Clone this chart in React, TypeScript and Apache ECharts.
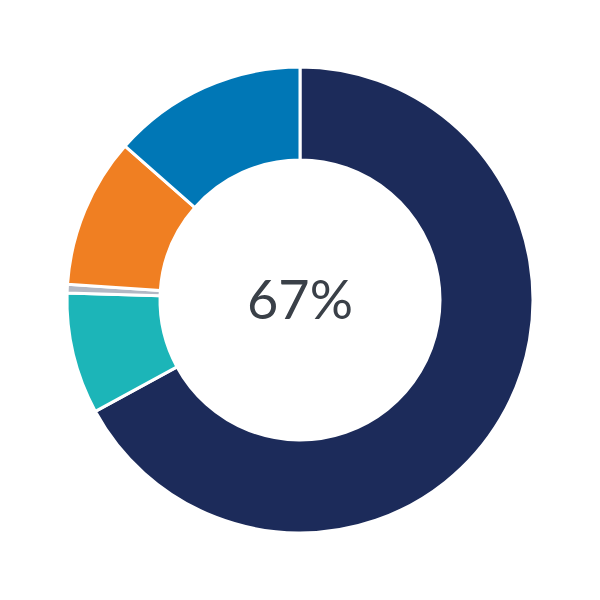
import * as echarts from "echarts";
import { useEffect, useRef } from "react";

const LABELS = ["Navy", "Teal", "Gray", "Orange", "Blue"];
const VALUES = [67, 8.4, 0.6, 10.4, 13.5];
const COLORS = ["#1c2b5a", "#1cb5b8", "#b3b8c4", "#f07f22", "#0077b6"];
const CENTER_TEXT = "67%";

export default function App() {
  const containerRef = useRef<HTMLDivElement>(null);

  useEffect(() => {
    const container = containerRef.current;
    if (!container) {
      return;
    }
    const chart = echarts.init(container, undefined, { renderer: "svg" });
    chart.setOption({
      animation: false,
      graphic: [
        {
          type: "text",
          x: 300,
          y: 298,
          style: {
            text: CENTER_TEXT,
            align: "center",
            verticalAlign: "middle",
            fontFamily: "Lato",
            fontWeight: 400,
            fontSize: 54,
            fill: "#3a4048",
          },
        },
      ],
      series: [
        {
          type: "pie",
          center: [300, 300],
          radius: [140, 233],
          startAngle: 90,
          clockwise: true,
          label: { show: false },
          labelLine: { show: false },
          emphasis: { disabled: true },
          itemStyle: { borderColor: "#ffffff", borderWidth: 3 },
          data: LABELS.map((name, i) => ({
            name,
            value: VALUES[i],
            itemStyle: { color: COLORS[i] },
          })),
        },
      ],
    });
    return () => chart.dispose();
  }, []);

  return (
    <div
      ref={containerRef}
      style={{ position: "fixed", left: 0, top: 0, width: 600, height: 600 }}
    />
  );
}
